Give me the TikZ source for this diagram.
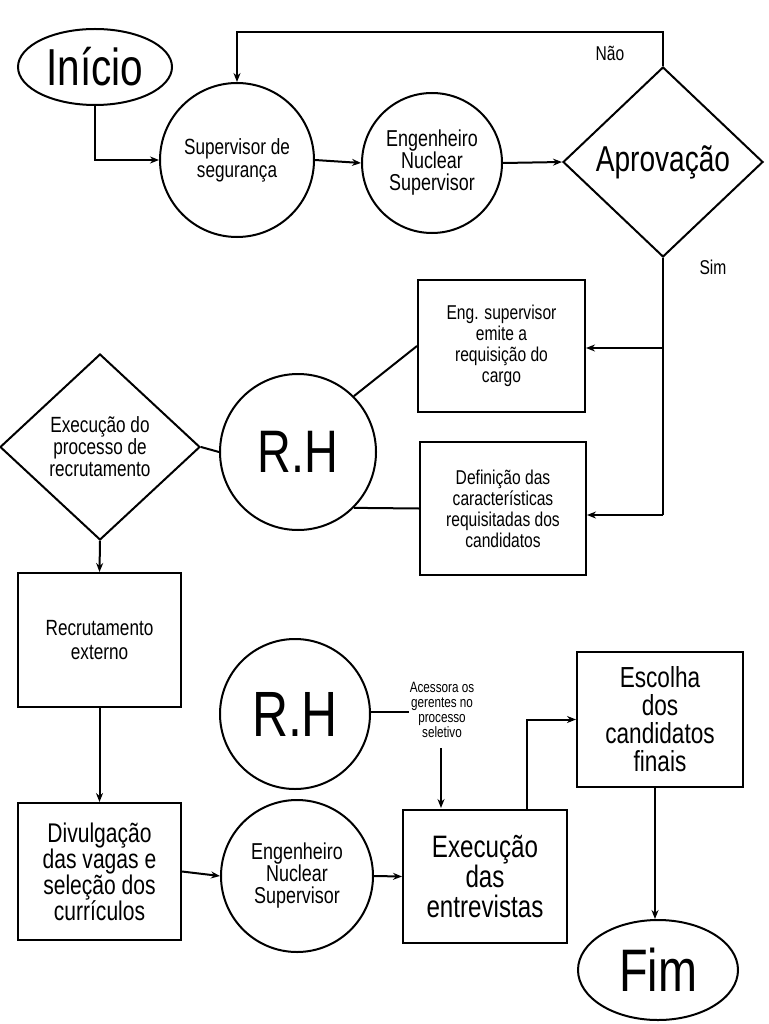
\documentclass[tikz,border=0pt]{standalone}
\usepackage{fontspec}
\setmainfont{Liberation Sans}[FakeStretch=0.78]
\usetikzlibrary{shapes.geometric,arrows.meta}
\begin{document}
\begin{tikzpicture}[x=1pt,y=-1pt,
  ln/.style={line width=2pt},
  ar/.style={ln,-{Stealth[length=9pt,width=7pt]}},
  sh/.style={draw,line width=2pt,inner sep=0pt,align=center},
  circ/.style={sh,circle},
  box/.style={sh,rectangle},
  dia/.style={sh,diamond}]
\useasboundingbox (0,0) rectangle (768,1024);
\node[sh,ellipse,minimum width=154,minimum height=76,font=\fontsize{52}{56}\selectfont] (ini) at (95,67) {Início};
\node[circ,minimum size=154,font=\fontsize{22}{23}\selectfont] (sup) at (237,160) {Supervisor de\\segurança};
\node[circ,minimum size=140,font=\fontsize{23}{22}\selectfont] (eng) at (432,163) {Engenheiro\\Nuclear\\Supervisor};
\node[dia,minimum width=200,minimum height=190,font=\fontsize{36}{38}\selectfont] (apr) at (663,162) {Aprovação};
\node[box,minimum width=167,minimum height=132,font=\fontsize{20}{21}\selectfont] (req) at (501.5,346) {Eng. supervisor\\emite a\\requisição do\\cargo};
\node[box,minimum width=166,minimum height=133,font=\fontsize{20}{21}\selectfont] (def) at (503,508.5) {Definição das\\características\\requisitadas dos\\candidatos};
\node[circ,minimum size=156,font=\fontsize{60}{60}\selectfont] (rh) at (298,452) {R.H};
\node[dia,minimum width=200,minimum height=186,font=\fontsize{22}{22}\selectfont] (exe) at (100,447) {Execução do\\processo de\\recrutamento};
\node[box,minimum width=163,minimum height=134,font=\fontsize{22}{24}\selectfont] (rec) at (99.5,640) {Recrutamento\\externo};
\node[box,minimum width=163,minimum height=137,font=\fontsize{27}{26}\selectfont] (div) at (99.5,871.5) {Divulgação\\das vagas e\\seleção dos\\currículos};
\node[circ,minimum size=152,font=\fontsize{23}{22}\selectfont] (eng2) at (297,876) {Engenheiro\\Nuclear\\Supervisor};
\node[box,minimum width=164,minimum height=133,font=\fontsize{31}{30}\selectfont] (ent) at (485,876.5) {Execução\\das\\entrevistas};
\node[circ,minimum size=150,font=\fontsize{64}{64}\selectfont] (rh2) at (295,714) {R.H};
\node[align=center,inner sep=1pt,font=\fontsize{15}{15}\selectfont] (ace) at (442,710) {Acessora os\\gerentes no\\processo\\seletivo};
\node[box,minimum width=166,minimum height=135,font=\fontsize{29}{28}\selectfont] (esc) at (660,719.5) {Escolha\\dos\\candidatos\\finais};
\node[sh,ellipse,minimum width=160,minimum height=100,font=\fontsize{60}{60}\selectfont] (fim) at (658,970) {Fim};
\node[font=\fontsize{20}{20}\selectfont] (nao) at (610,53) {Não};
\node[font=\fontsize{20}{20}\selectfont] (sim) at (713,267) {Sim};
\coordinate (c1) at (663,348);
\coordinate (c2) at (663,515);
\draw[ar] (ini.south) |- (sup.west);
\draw[ar] (sup.east) -- (eng.west);
\draw[ar] (eng.east) -- (apr.west);
\draw[ar] (apr.north) -- (663,32) -| (sup.north);
\draw[ln] (apr.south) -- (c2);
\draw[ar] (c1) -- (req.east |- c1);
\draw[ar] (c2) -- (def.east |- c2);
\draw[ln] (rh.north east) -- (req.west);
\draw[ln] (rh.south east) -- (def.west);
\draw[ln] (rh.west) -- (exe.east);
\draw[ar] (exe.south) -- (rec.north);
\draw[ar] (rec.south) -- (div.north);
\draw[ar] (div.east) -- (eng2.west);
\draw[ar] (eng2.east) -- (ent.west);
\draw[ln] (rh2.east |- 0,712) -- (ace.west |- 0,712);
\draw[ar] (441,748) -- (441,808);
\draw[ar] (527,810) |- (esc.west);
\draw[ar] (esc.south -| 655,0) -- (fim.north -| 655,0);
\end{tikzpicture}
\end{document}
